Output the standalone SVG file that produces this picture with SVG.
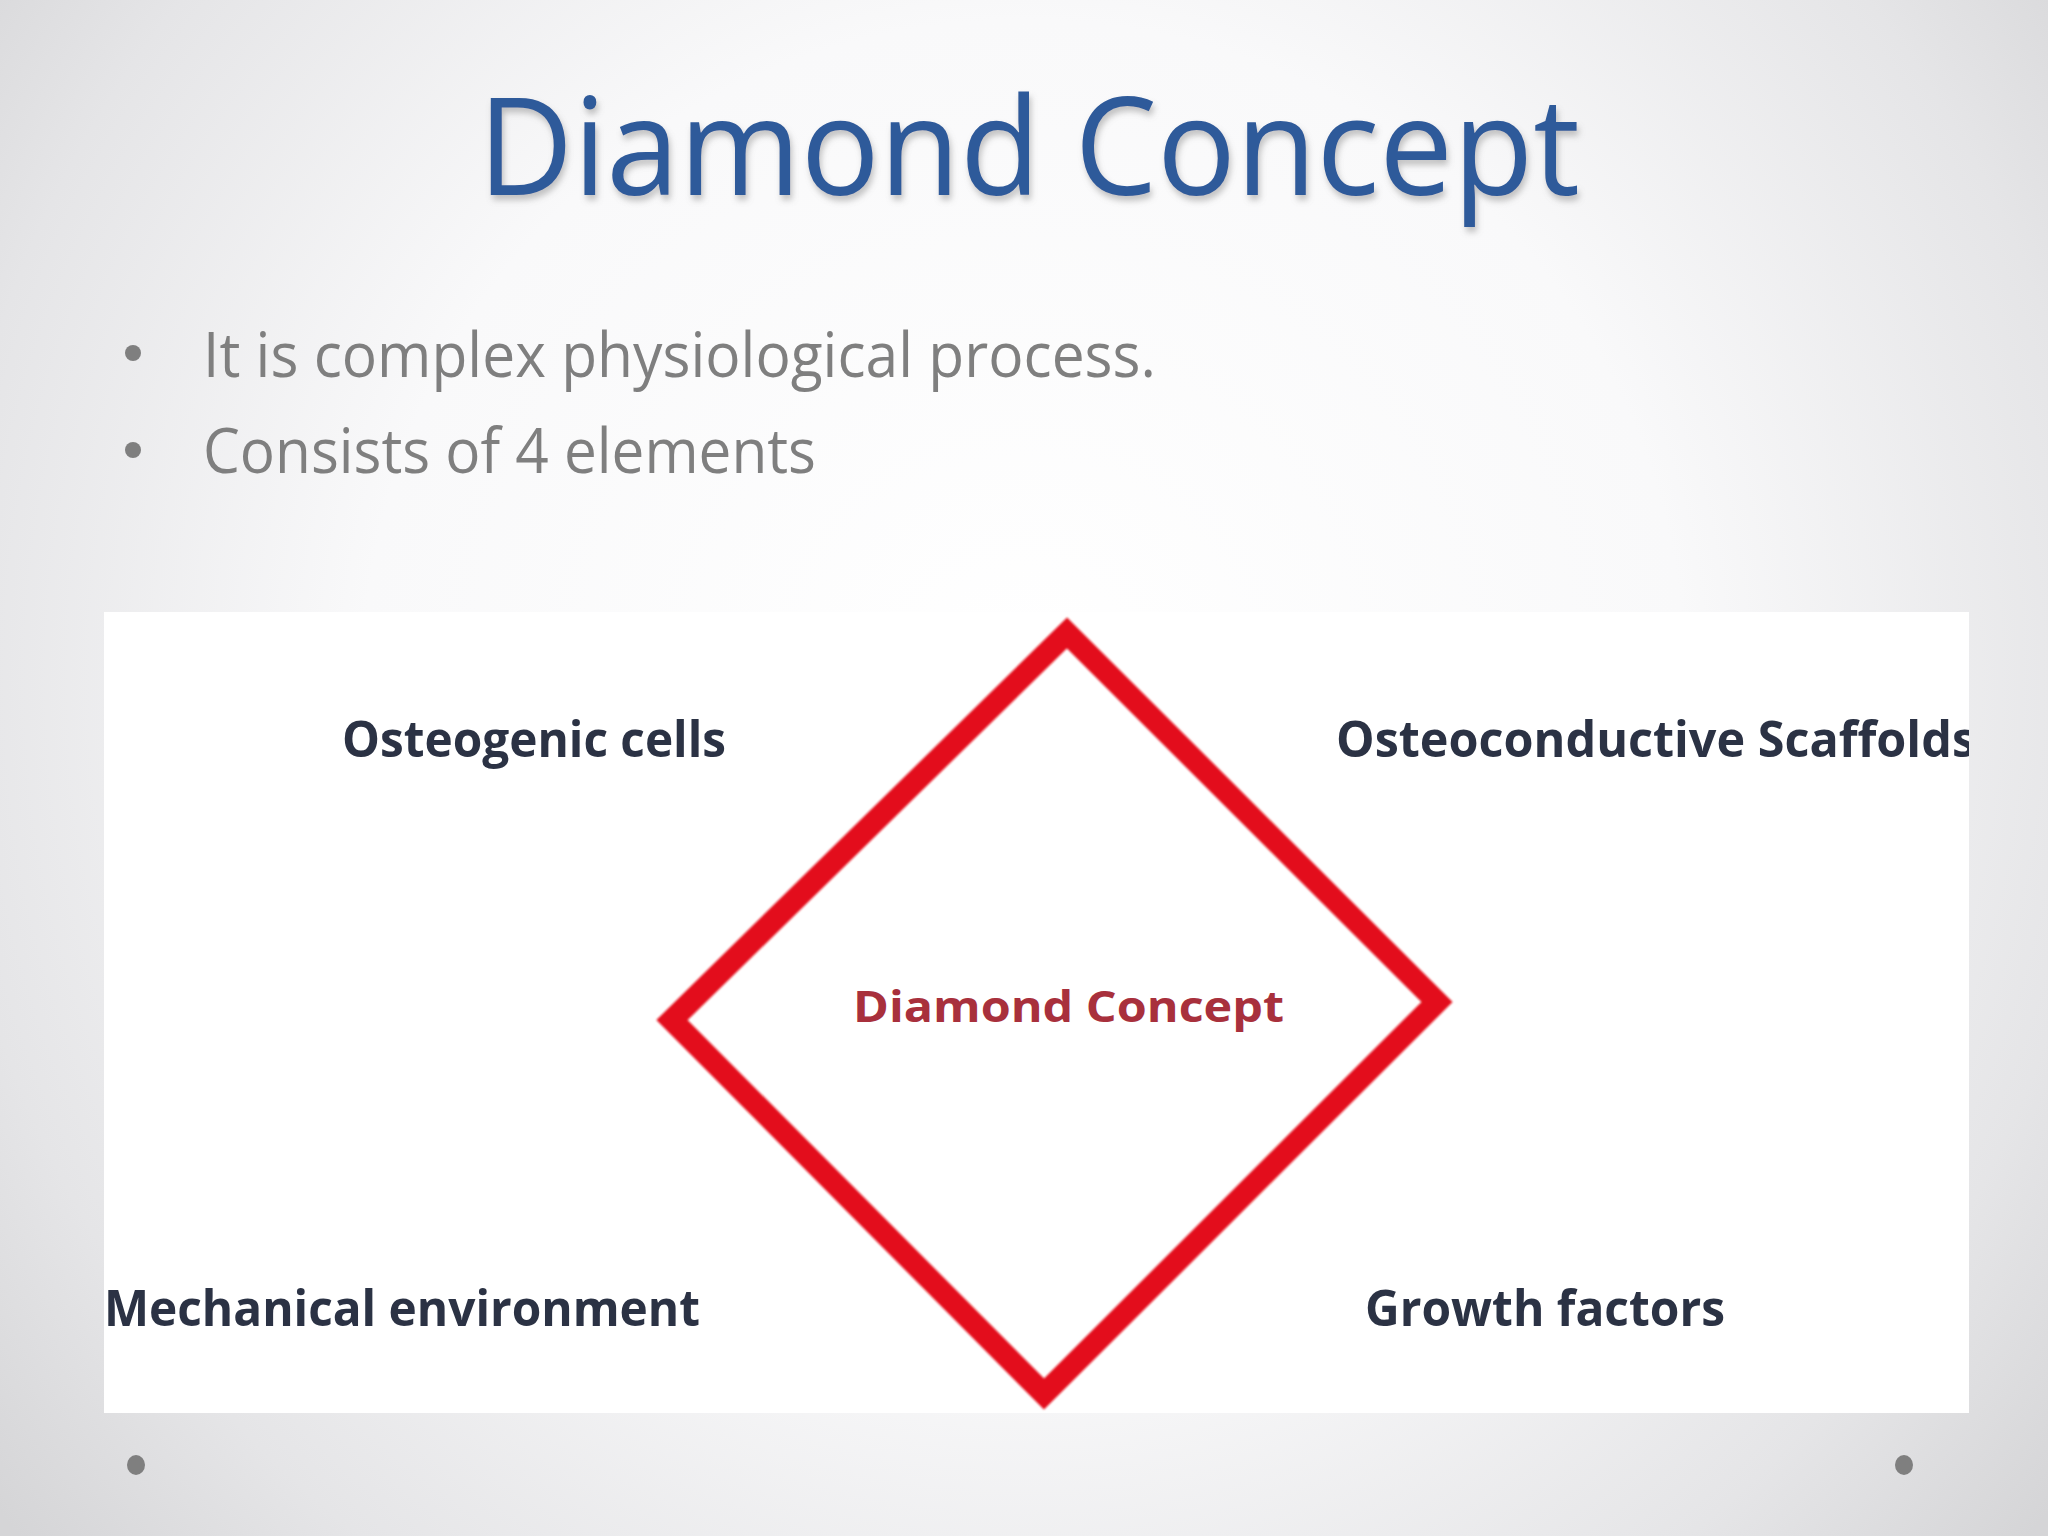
<svg xmlns="http://www.w3.org/2000/svg" width="2048" height="1536" viewBox="0 0 2048 1536">
  <defs>
    <radialGradient id="bg" cx="1024" cy="680" r="1320" gradientUnits="userSpaceOnUse">
      <stop offset="0" stop-color="#FFFFFF"/>
      <stop offset="0.5" stop-color="#F9F9FA"/>
      <stop offset="0.82" stop-color="#E5E5E7"/>
      <stop offset="1" stop-color="#D5D5D7"/>
    </radialGradient>
    <filter id="shadow" x="-5%" y="-20%" width="110%" height="150%">
      <feDropShadow dx="2" dy="5" stdDeviation="3" flood-color="#7A7A7A" flood-opacity="0.45"/>
    </filter>
    <filter id="soft" x="-5%" y="-5%" width="110%" height="110%">
      <feGaussianBlur stdDeviation="0.8"/>
    </filter>
    <clipPath id="panelClip">
      <rect x="104" y="612" width="1865" height="801"/>
    </clipPath>
  </defs>
  <style>
    .title { font-family: "Open Sans", "Noto Sans", sans-serif; font-size: 136px; fill: #2F5A9A; }
    .bullet { font-family: "Open Sans", "Noto Sans", sans-serif; font-size: 63px; fill: #7F7F7F; }
    .dot { fill: #7F7F7F; }
    .label { font-family: "Open Sans", "Noto Sans", sans-serif; font-weight: bold; font-size: 50px; fill: #2B3244; }
    .center { font-family: "Open Sans", "Noto Sans", sans-serif; font-weight: bold; font-size: 43px; fill: #A8303C; }
    .diamond { fill: none; stroke: #E3101B; stroke-width: 22; stroke-linejoin: miter; }
  </style>

  <rect x="0" y="0" width="2048" height="1536" fill="url(#bg)"/>

  <g id="title">
    <text class="title" x="478" y="195" textLength="1102" lengthAdjust="spacingAndGlyphs" filter="url(#shadow)">Diamond Concept</text>
  </g>

  <g id="bullets">
    <circle class="dot" cx="133" cy="353" r="8"/>
    <text class="bullet" x="203" y="377" textLength="953" lengthAdjust="spacingAndGlyphs">It is complex physiological process.</text>
    <circle class="dot" cx="133" cy="450" r="8"/>
    <text class="bullet" x="203" y="473" textLength="613" lengthAdjust="spacingAndGlyphs">Consists of 4 elements</text>
  </g>

  <g id="panel">
    <rect x="104" y="612" width="1865" height="801" fill="#FFFFFF"/>
  </g>

  <g id="diamond" clip-path="url(#panelClip)">
    <polygon class="diamond" filter="url(#soft)" points="1067,633 1437,1002 1044,1394 672,1020"/>
    <text class="center" x="853" y="1022" textLength="431" lengthAdjust="spacingAndGlyphs">Diamond Concept</text>
  </g>

  <g id="osteogenic-cells">
    <text class="label" x="342" y="757" textLength="384" lengthAdjust="spacingAndGlyphs">Osteogenic cells</text>
  </g>

  <g id="osteoconductive-scaffolds" clip-path="url(#panelClip)">
    <text class="label" x="1336" y="757" textLength="640" lengthAdjust="spacingAndGlyphs">Osteoconductive Scaffolds</text>
  </g>

  <g id="mechanical-environment">
    <text class="label" x="104" y="1326" textLength="596" lengthAdjust="spacingAndGlyphs">Mechanical environment</text>
  </g>

  <g id="growth-factors">
    <text class="label" x="1365" y="1326" textLength="360" lengthAdjust="spacingAndGlyphs">Growth factors</text>
  </g>

  <g id="connectors"></g>

  <g id="footer-dots">
    <ellipse class="dot" cx="136" cy="1465" rx="9" ry="10"/>
    <ellipse class="dot" cx="1904" cy="1465" rx="9" ry="10"/>
  </g>
</svg>
